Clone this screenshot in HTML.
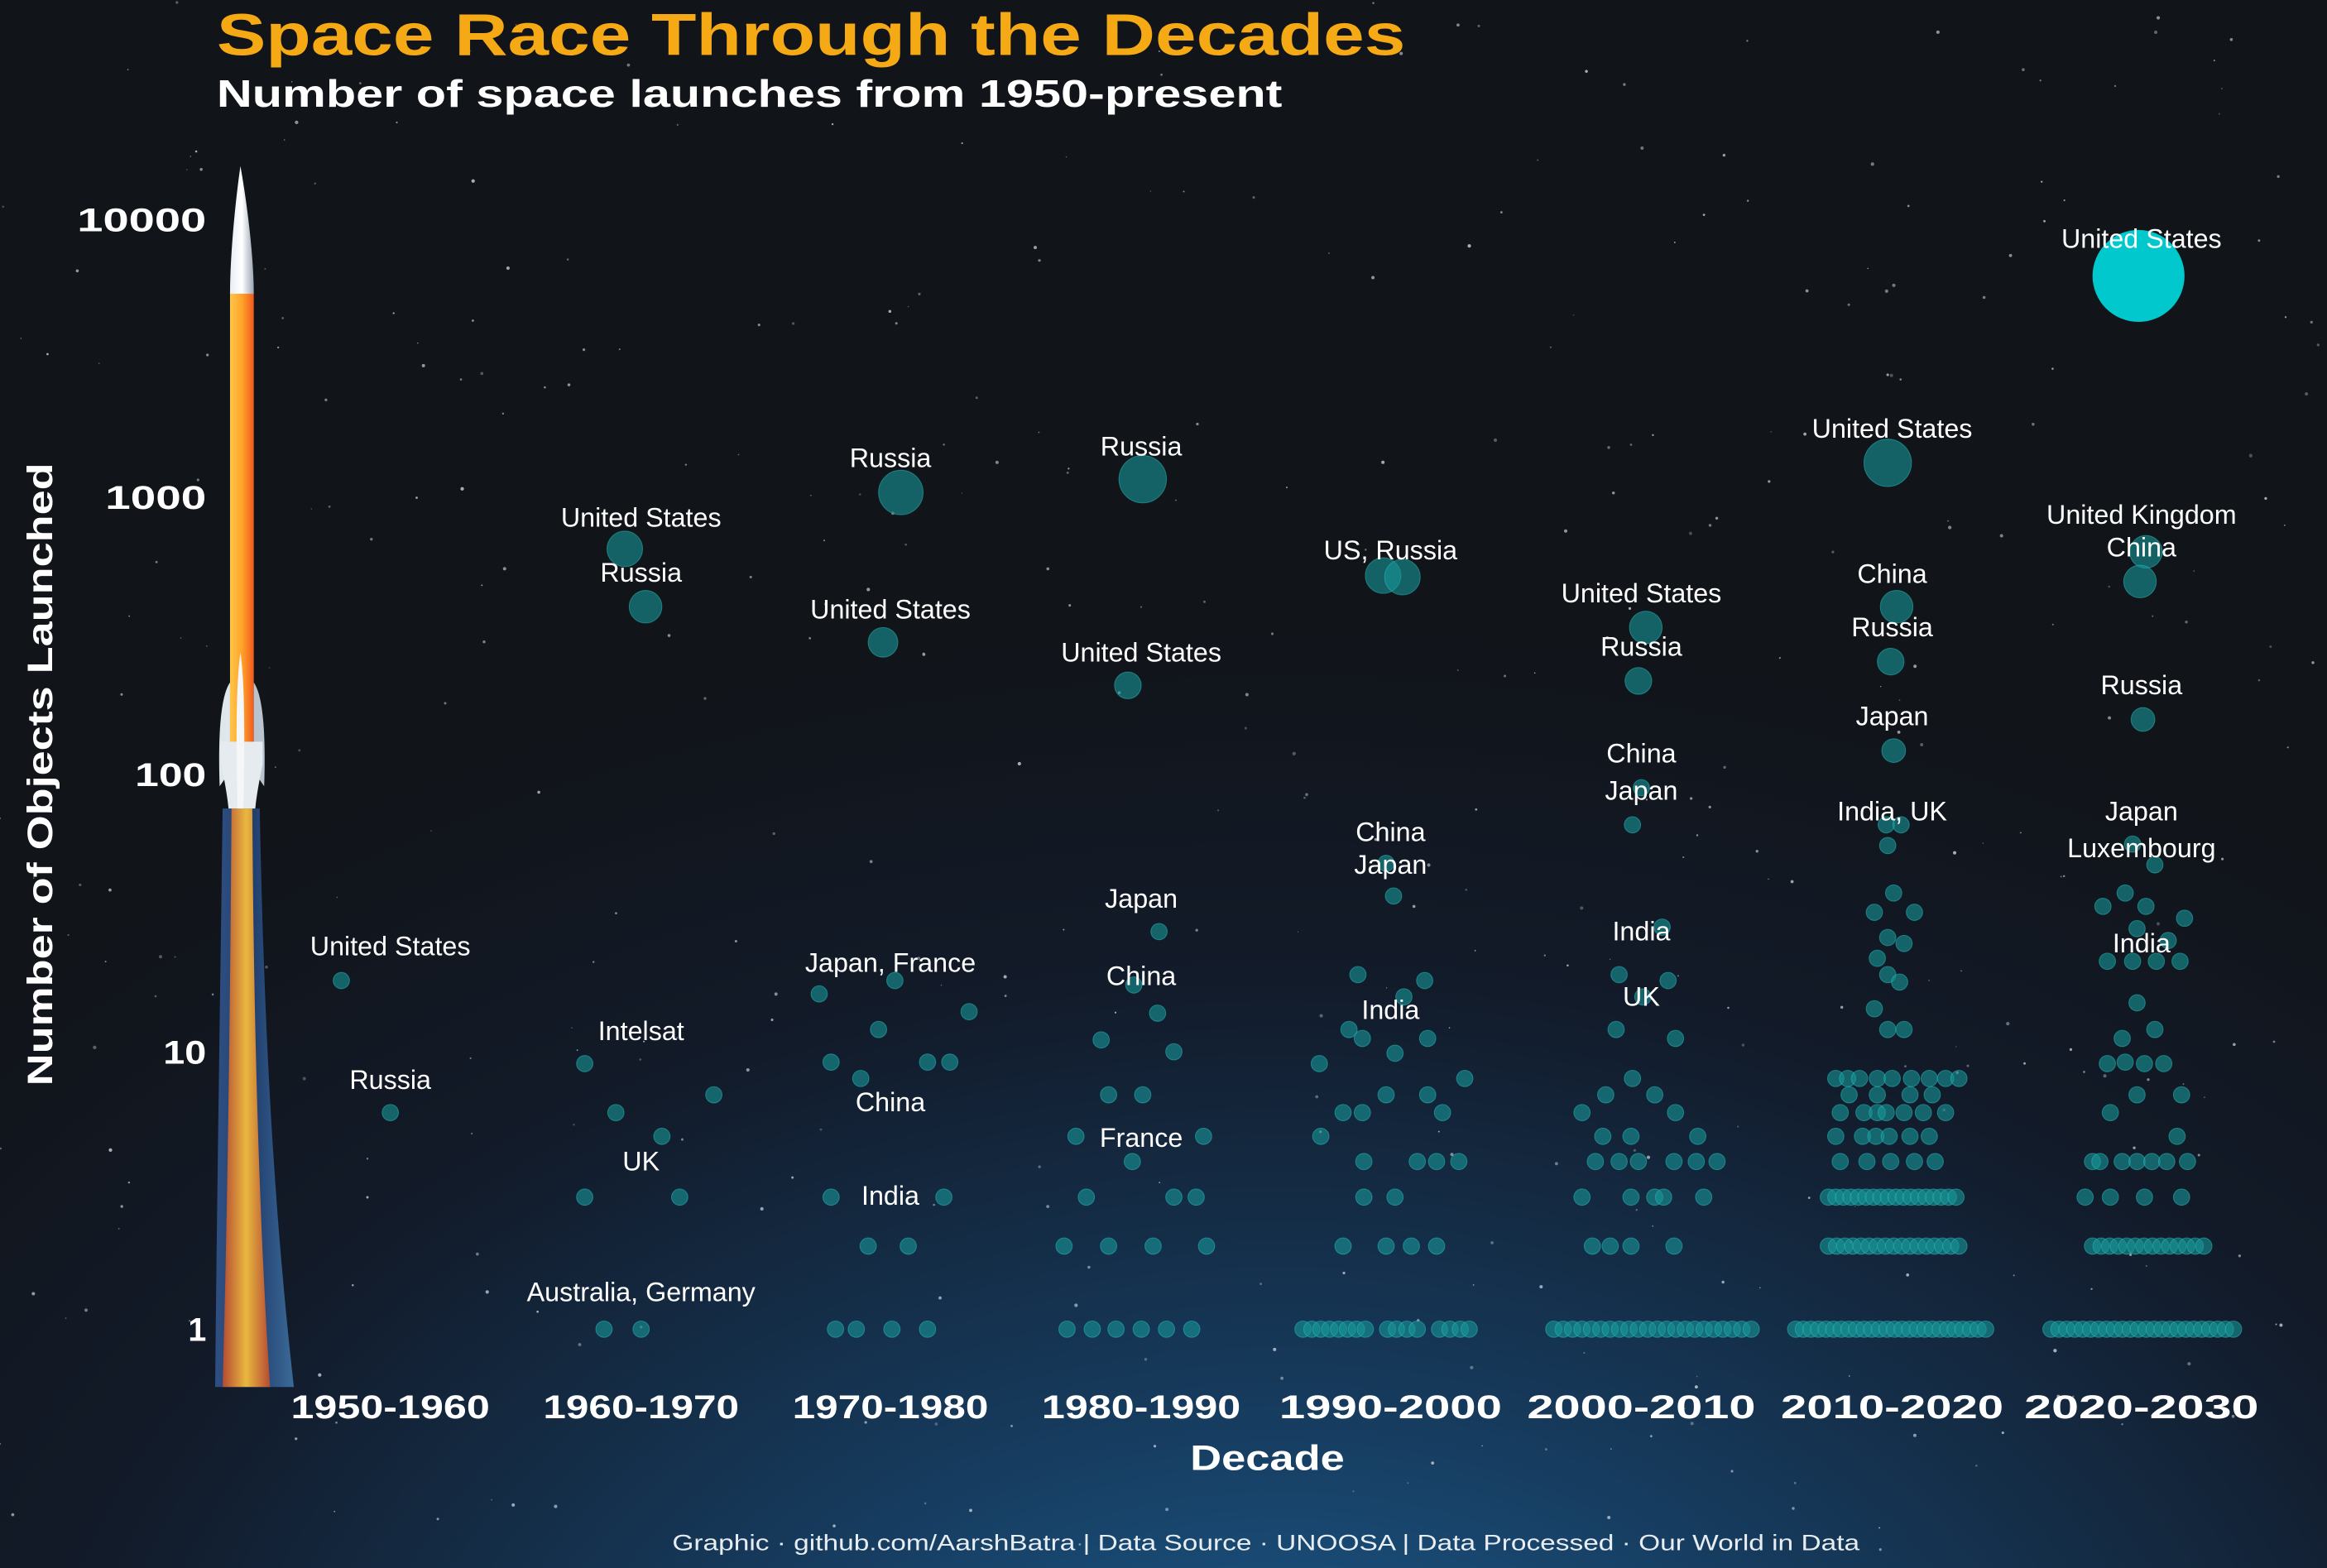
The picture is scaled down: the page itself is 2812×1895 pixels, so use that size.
<!DOCTYPE html>
<html><head><meta charset="utf-8">
<style>
html,body{margin:0;padding:0;background:#12171f;}
svg{display:block;}
text{font-family:"Liberation Sans",sans-serif;}
</style></head>
<body>
<svg id="s" width="2812" height="1895" viewBox="0 0 1568 1057" preserveAspectRatio="none" xmlns="http://www.w3.org/2000/svg">
<defs>
<radialGradient id="bg" cx="0.55" cy="1.15" r="0.75">
<stop offset="0" stop-color="#1d5f93"/>
<stop offset="0.35" stop-color="#163a5c"/>
<stop offset="0.7" stop-color="#121b2a"/>
<stop offset="1" stop-color="#111419"/>
</radialGradient>
<linearGradient id="body" x1="0" x2="1">
<stop offset="0" stop-color="#ffc64a"/><stop offset="0.5" stop-color="#ffa32a"/><stop offset="1" stop-color="#f05a1e"/>
</linearGradient>
<linearGradient id="nose" x1="0" x2="1">
<stop offset="0" stop-color="#e8eef3"/><stop offset="0.5" stop-color="#ffffff"/><stop offset="1" stop-color="#9aa7b3"/>
</linearGradient>
<linearGradient id="exh" x1="0" x2="1">
<stop offset="0" stop-color="#2f4f82"/><stop offset="0.5" stop-color="#22406f"/><stop offset="1" stop-color="#3b6a98"/>
</linearGradient>
<linearGradient id="fl" x1="0" x2="1">
<stop offset="0" stop-color="#c44a2a"/><stop offset="0.5" stop-color="#ffc53a"/><stop offset="1" stop-color="#c44a2a"/>
</linearGradient>
</defs>
<rect width="1568" height="1057" fill="url(#bg)"/>
<g id="stars" fill="#cfd6e0"></g>

<!-- rocket -->
<path d="M150,545 L175,545 C178,700 185,820 198,935 L145,935 C146,820 148,700 150,545Z" fill="url(#exh)"/>
<path d="M156,545 L170,545 C171,700 175,830 182,935 L150,935 C153,830 155,700 156,545Z" fill="url(#fl)" opacity="0.9"/>
<rect x="155" y="198" width="16" height="305" fill="url(#body)"/>
<path d="M162,112 C158,140 155,175 155,198 L171,198 C171,175 167,140 162,112Z" fill="url(#nose)"/>
<path d="M155,460 C148,470 147,500 148,530 L155,520Z" fill="#dfe6ec"/>
<path d="M171,460 C178,470 179,500 178,530 L171,520Z" fill="#b8c4cf"/>
<path d="M149,500 L177,500 L177,515 C175,525 173,535 172,545 L154,545 C153,535 151,525 149,515Z" fill="#e6ebef"/>
<path d="M162,440 C159,460 159,500 160,545 L164,545 C165,500 165,460 162,440Z" fill="#f4f6f8"/>

<!-- titles -->
<text x="146" y="37" fill="#f5a914" font-size="40" font-weight="bold" textLength="801" lengthAdjust="spacingAndGlyphs">Space Race Through the Decades</text>
<text x="146" y="72" fill="#ffffff" font-size="26" font-weight="bold" textLength="718" lengthAdjust="spacingAndGlyphs">Number of space launches from 1950-present</text>

<!-- y ticks -->
<g fill="#fff" font-size="22" font-weight="bold" text-anchor="end">
<text x="139" y="156" textLength="87" lengthAdjust="spacingAndGlyphs">10000</text>
<text x="139" y="343" textLength="68" lengthAdjust="spacingAndGlyphs">1000</text>
<text x="139" y="530" textLength="48" lengthAdjust="spacingAndGlyphs">100</text>
<text x="139" y="717" textLength="29" lengthAdjust="spacingAndGlyphs">10</text>
<text x="139" y="904">1</text>
</g>
<text transform="translate(35,522) rotate(-90)" fill="#fff" font-size="24" font-weight="bold" text-anchor="middle" textLength="420" lengthAdjust="spacingAndGlyphs">Number of Objects Launched</text>

<!-- x ticks -->
<g fill="#fff" font-size="22" font-weight="bold" text-anchor="middle">
<text x="263" y="956" textLength="134" lengthAdjust="spacingAndGlyphs">1950-1960</text>
<text x="432" y="956" textLength="132" lengthAdjust="spacingAndGlyphs">1960-1970</text>
<text x="600" y="956" textLength="132" lengthAdjust="spacingAndGlyphs">1970-1980</text>
<text x="769" y="956" textLength="134" lengthAdjust="spacingAndGlyphs">1980-1990</text>
<text x="937" y="956" textLength="150" lengthAdjust="spacingAndGlyphs">1990-2000</text>
<text x="1106" y="956" textLength="154" lengthAdjust="spacingAndGlyphs">2000-2010</text>
<text x="1275" y="956" textLength="150" lengthAdjust="spacingAndGlyphs">2010-2020</text>
<text x="1443" y="956" textLength="158" lengthAdjust="spacingAndGlyphs">2020-2030</text>
</g>
<text x="854" y="991" fill="#fff" font-size="24" font-weight="bold" text-anchor="middle" textLength="104" lengthAdjust="spacingAndGlyphs">Decade</text>
<text x="853" y="1045" fill="#e8edf2" font-size="15" text-anchor="middle" textLength="800" lengthAdjust="spacingAndGlyphs">Graphic · github.com/AarshBatra | Data Source · UNOOSA | Data Processed · Our World in Data</text>

<g id="dots"></g>
<g id="labels" fill="#fff" font-size="18" text-anchor="middle"></g>
</svg>
<script>
var NS="http://www.w3.org/2000/svg";
// stars
var seed=7;function rnd(){seed=(seed*16807)%2147483647;return seed/2147483647;}
var st=document.getElementById("stars");
for(var i=0;i<420;i++){var c=document.createElementNS(NS,"circle");c.setAttribute("cx",rnd()*1568);c.setAttribute("cy",rnd()*1057);c.setAttribute("r",0.4+rnd()*0.8);c.setAttribute("opacity",0.3+rnd()*0.5);st.appendChild(c);}
var D=document.getElementById("dots");
function dot(x,y,r,big){var c=document.createElementNS(NS,"circle");c.setAttribute("cx",x);c.setAttribute("cy",y);c.setAttribute("r",r||5.5);
 if(big){c.setAttribute("fill","#00d2d6");c.setAttribute("opacity","0.95");}else{c.setAttribute("fill","rgba(24,150,152,0.6)");c.setAttribute("stroke","rgba(40,190,190,0.5)");c.setAttribute("stroke-width","0.6");}
 D.appendChild(c);}
function row(y,xs){xs.forEach(function(x){dot(x,y);});}
function range(a,b,n){var o=[];for(var i=0;i<n;i++)o.push(a+(b-a)*i/(n-1));return o;}
// 1950
dot(230,661);dot(263,750);
// 1960
dot(421,370,12);dot(435,409,11);row(717,[394]);row(750,[415]);row(766,[446]);row(738,[481]);row(807,[394,458]);row(896,[407,432]);
// 1970
dot(607,332,15);dot(595,433,10);row(670,[552]);row(661,[603]);row(682,[653]);row(694,[592]);row(716,[560,625,640]);row(727,[580]);row(807,[560,636]);row(840,[585,612]);row(896,[563,577,601,625]);
// 1980
dot(770,323,16);dot(760,462,9);row(628,[781]);row(664,[764]);row(683,[780]);row(701,[742]);row(709,[791]);row(738,[747,770]);row(766,[725,811]);row(783,[763]);row(807,[732,791,806]);row(840,[717,747,777,813]);row(896,[719,736,752,769,786,803]);
// 1990
dot(932,388,12);dot(945,389,12);dot(934,582);dot(939,604);row(657,[915]);row(661,[960]);row(672,[946]);row(694,[909]);row(700,[918,962]);row(710,[940]);row(717,[889]);row(727,[987]);row(738,[934,962]);row(750,[905,918,972]);row(766,[890]);row(783,[919,955,968,983]);row(807,[919,940]);row(840,[905,934,951,968]);
row(896,[878,884,890,896,902,908,914,920,935,941,948,955,970,977,984,990]);
// 2000
dot(1109,423,11);dot(1104,459,9);dot(1106,531);dot(1100,556);row(625,[1120]);row(657,[1091]);row(661,[1124]);row(672,[1107]);row(694,[1089]);row(700,[1129]);row(727,[1100]);row(738,[1082,1115]);row(750,[1066,1129]);row(766,[1080,1099,1144]);row(783,[1075,1091,1104,1128,1143,1157]);row(807,[1066,1099,1115,1121,1148]);row(840,[1073,1085,1099,1128]);
row(896,range(1047,1180,22));
// 2010
dot(1272,312,16);dot(1278,409,11);dot(1274,446,9);dot(1276,506,8);
row(556,[1271,1281]);row(570,[1272]);row(602,[1276]);row(615,[1263,1290]);row(632,[1272]);row(636,[1283]);row(646,[1265]);row(657,[1272]);row(662,[1280]);row(680,[1263]);row(694,[1272,1283]);
row(727,[1237,1245,1253,1265,1275,1288,1300,1311,1320]);row(738,[1246,1265,1287,1302]);row(750,[1240,1256,1265,1271,1283,1296,1311]);row(766,[1237,1255,1264,1273,1287,1300]);row(783,[1240,1258,1274,1290,1304]);
row(807,range(1232,1318,18));row(840,range(1232,1320,17));row(896,range(1210,1338,26));
// 2020
dot(1441,186,31,true);dot(1446,372,11);dot(1442,392,11);dot(1444,485,8);
row(569,[1437]);row(583,[1452]);row(602,[1432]);row(611,[1417,1446]);row(619,[1472]);row(626,[1440]);row(634,[1461]);row(648,[1420,1437,1453,1469]);row(676,[1440]);row(694,[1452]);row(700,[1430]);row(717,[1420,1445,1458]);row(716,[1432]);row(738,[1440,1470]);row(750,[1422]);row(766,[1467]);
row(783,[1410,1415,1430,1440,1450,1460,1474]);row(807,[1405,1422,1445,1470]);row(840,range(1410,1485,14));row(896,range(1382,1505,24));
// labels
var L=document.getElementById("labels");
[["United States",263,644],["Russia",263,734],
["United States",432,355],["Russia",432,392],["Intelsat",432,701],["UK",432,789],["Australia, Germany",432,877],
["Russia",600,315],["United States",600,417],["Japan, France",600,655],["China",600,749],["India",600,812],
["Russia",769,307],["United States",769,446],["Japan",769,612],["China",769,664],["France",769,773],
["US, Russia",937,377],["China",937,567],["Japan",937,589],["India",937,687],
["United States",1106,406],["Russia",1106,442],["China",1106,514],["Japan",1106,539],["India",1106,634],["UK",1106,678],
["United States",1275,295],["China",1275,393],["Russia",1275,429],["Japan",1275,489],["India, UK",1275,553],
["United States",1443,167],["United Kingdom",1443,353],["China",1443,375],["Russia",1443,468],["Japan",1443,553],["Luxembourg",1443,578],["India",1443,642]
].forEach(function(a){var t=document.createElementNS(NS,"text");t.setAttribute("x",a[1]);t.setAttribute("y",a[2]);t.textContent=a[0];L.appendChild(t);});
</script>
</body></html>
